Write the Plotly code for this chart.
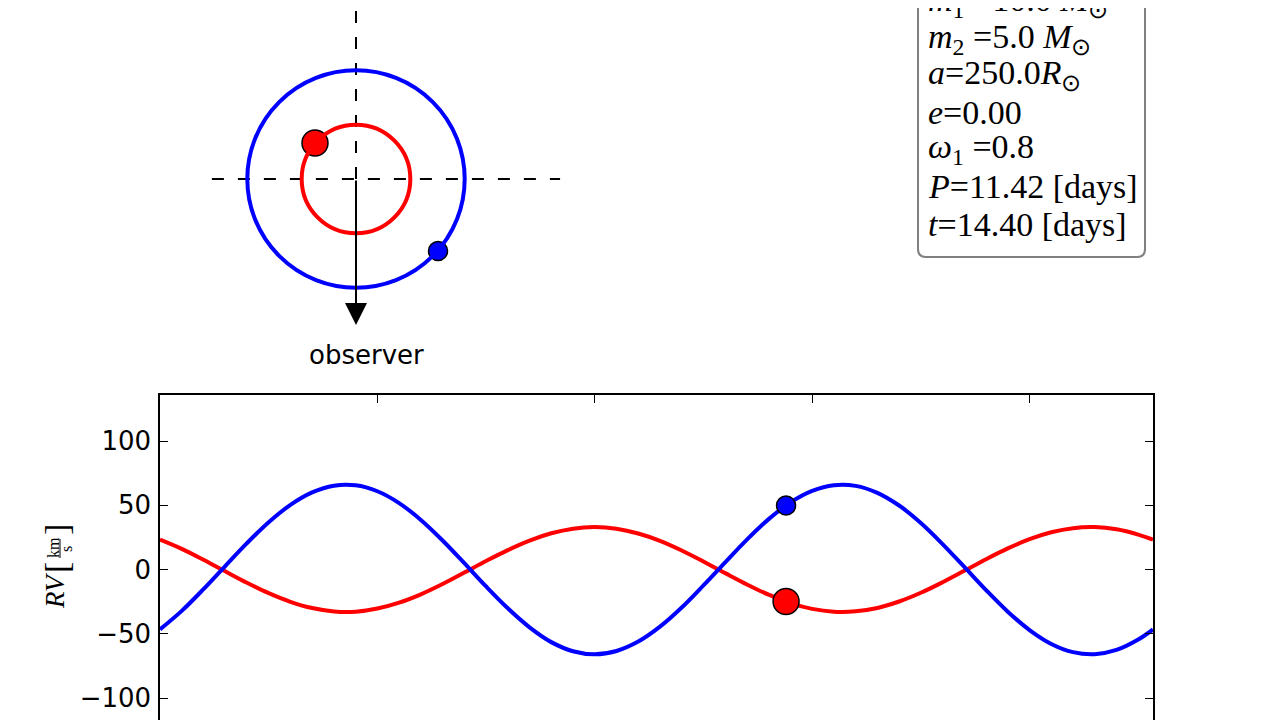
import plotly.graph_objects as go

# ---- data ----
t_days = [0.0, 0.5, 1.0, 1.5, 2.0, 2.5, 3.0, 3.5, 4.0, 4.5, 5.0, 5.5, 6.0, 6.5, 7.0, 7.5,
          8.0, 8.5, 9.0, 9.5, 10.0, 10.5, 11.0, 11.5, 12.0, 12.5, 13.0, 13.5, 14.0, 14.5,
          15.0, 15.5, 16.0, 16.5, 17.0, 17.5, 18.0, 18.5, 19.0, 19.5, 20.0, 20.5, 21.0,
          21.5, 22.0, 22.5, 22.84]
rv_blue = [-46.6, -32.2, -15.3, 2.7, 20.5, 36.8, 50.3, 60.0, 65.2, 65.5, 60.9, 51.7, 38.6,
           22.6, 4.9, -13.2, -30.2, -45.0, -56.5, -63.6, -66.0, -63.4, -56.1, -44.5, -29.6,
           -12.4, 5.6, 23.3, 39.2, 52.2, 61.2, 65.6, 65.1, 59.7, 49.8, 36.2, 19.8, 2.0,
           -16.0, -32.8, -47.1, -57.9, -64.3, -65.9, -62.6, -54.5, -46.6]
rv_red = [23.3, 16.1, 7.6, -1.4, -10.3, -18.4, -25.1, -30.0, -32.6, -32.8, -30.4, -25.8,
          -19.3, -11.3, -2.4, 6.6, 15.1, 22.5, 28.2, 31.8, 33.0, 31.7, 28.0, 22.3, 14.8, 6.2,
          -2.8, -11.6, -19.6, -26.1, -30.6, -32.8, -32.5, -29.9, -24.9, -18.1, -9.9, -1.0,
          8.0, 16.4, 23.6, 29.0, 32.2, 33.0, 31.3, 27.2, 23.3]

now_t = [14.40]
now_rv_blue = [49.8]
now_rv_red = [-24.9]

# orbit plane (units of R_sun), red = star 1, blue = star 2
orbit_radius_red = 83.3
orbit_radius_blue = 166.7
star_red_xy = [-62.9, 55.2]
star_blue_xy = [125.8, -110.4]
guide_h_x = [-221, 313]
guide_v_y = [0, 300]
observer_tip_y = -224

rv_ticks = [-100, -50, 0, 50, 100]
t_ticks = [0, 5, 10, 15, 20]
period = 11.42

param_lines = [
    "<i>m</i><sub>1</sub> =10.0 <i>M</i><sub>⊙</sub>",
    "<i>m</i><sub>2</sub> =5.0 <i>M</i><sub>⊙</sub>",
    "<i>a</i>=250.0<i>R</i><sub>⊙</sub>",
    "<i>e</i>=0.00",
    "<i>ω</i><sub>1</sub> =0.8",
    "<i>P</i>=11.42 [days]",
    "<i>t</i>=14.40 [days]",
]

# the page body has an 8px margin, so the figure is drawn 8px in from the corner
OFF = 8
FW, FH = 1280 - OFF, 720 - OFF
SCALE = 0.652          # screen px per R_sun in the orbit panel
CX, CY = 356, 179      # screen position of the orbit centre


def px(x):
    return (x - OFF) / FW


def py(y):
    return 1 - (y - OFF) / FH


fig = go.Figure()

# ---- RV panel ----
fig.add_trace(go.Scatter(x=t_days, y=rv_red, mode="lines", line=dict(color="#ff0000", width=4, shape="spline"),
                         xaxis="x", yaxis="y", hoverinfo="skip"))
fig.add_trace(go.Scatter(x=t_days, y=rv_blue, mode="lines", line=dict(color="#0000ff", width=4, shape="spline"),
                         xaxis="x", yaxis="y", hoverinfo="skip"))
fig.add_trace(go.Scatter(x=now_t, y=now_rv_blue, mode="markers",
                         marker=dict(color="#0000ff", size=19, line=dict(color="black", width=1.5)),
                         xaxis="x", yaxis="y", cliponaxis=False))
fig.add_trace(go.Scatter(x=now_t, y=now_rv_red, mode="markers",
                         marker=dict(color="#ff0000", size=26, line=dict(color="black", width=1.5)),
                         xaxis="x", yaxis="y", cliponaxis=False))

# ---- orbit panel ----
fig.add_trace(go.Scatter(x=guide_h_x, y=[0, 0], mode="lines", line=dict(color="black", width=2, dash="12px,14px"),
                         xaxis="x2", yaxis="y2", hoverinfo="skip"))
fig.add_trace(go.Scatter(x=[0, 0], y=guide_v_y, mode="lines", line=dict(color="black", width=2, dash="12px,14px"),
                         xaxis="x2", yaxis="y2", hoverinfo="skip"))
for r, col in [(orbit_radius_blue, "#0000ff"), (orbit_radius_red, "#ff0000")]:
    fig.add_shape(type="circle", xref="x2", yref="y2", x0=-r, y0=-r, x1=r, y1=r,
                  line=dict(color=col, width=4))
fig.add_trace(go.Scatter(x=[star_blue_xy[0]], y=[star_blue_xy[1]], mode="markers",
                         marker=dict(color="#0000ff", size=19, line=dict(color="black", width=1.5)),
                         xaxis="x2", yaxis="y2"))
fig.add_trace(go.Scatter(x=[star_red_xy[0]], y=[star_red_xy[1]], mode="markers",
                         marker=dict(color="#ff0000", size=26, line=dict(color="black", width=1.5)),
                         xaxis="x2", yaxis="y2"))
fig.add_annotation(xref="x2", yref="y2", axref="x2", ayref="y2", x=0, y=observer_tip_y, ax=0, ay=0,
                   text="", showarrow=True, arrowhead=2, arrowsize=2.2, arrowwidth=2, arrowcolor="black",
                   standoff=0, startstandoff=0)
fig.add_annotation(xref="paper", yref="paper", x=px(366), y=py(355), text="observer", showarrow=False,
                   font=dict(family="DejaVu Sans", size=26, color="black"), xanchor="center", yanchor="middle")

# ---- parameter box ----
L, R, T, B, rad = px(918), px(1145), py(-10), py(257), 8
box_path = (f"M {L},{T} L {L},{py(257 - rad)} Q {L},{B} {px(918 + rad)},{B} "
            f"L {px(1145 - rad)},{B} Q {R},{B} {R},{py(257 - rad)} L {R},{T}")
fig.add_shape(type="path", xref="paper", yref="paper", path=box_path,
              line=dict(color="#808080", width=2))
line_y = [2, 39, 75, 112, 149, 187, 224]
for txt, yy in zip(param_lines, line_y):
    fig.add_annotation(xref="paper", yref="paper", x=px(926), y=py(yy), text=txt, showarrow=False,
                       xanchor="left", yanchor="middle",
                       font=dict(family="Liberation Serif", size=34, color="black"))

# y label: RV [km / s], rotated, fraction built from pieces
serif = "Liberation Serif"
ylabel_parts = [
    ("<i>RV</i>", 55, 591, 27),
    ("[", 56, 568, 34),
    ("km", 53, 548, 16),
    ("s", 66, 549, 16),
    ("]", 56, 530, 34),
]
for txt, xx, yy, fs in ylabel_parts:
    fig.add_annotation(xref="paper", yref="paper", x=px(xx), y=py(yy), textangle=-90, showarrow=False,
                       text=txt, xanchor="center", yanchor="middle",
                       font=dict(family=serif, size=fs, color="black"))
fig.add_shape(type="line", xref="paper", yref="paper", x0=px(60), x1=px(60), y0=py(539), y1=py(558),
              line=dict(color="black", width=1))

fig.update_layout(
    width=FW, height=FH,
    margin=dict(l=0, r=0, t=0, b=0),
    paper_bgcolor="white", plot_bgcolor="rgba(0,0,0,0)",
    showlegend=False,
    xaxis=dict(domain=[px(160), px(1153)], range=[0, 2 * period], side="top",
               showline=True, linecolor="black", linewidth=1.5, mirror=False,
               ticks="inside", ticklen=8, tickwidth=1, tickcolor="black", tickvals=t_ticks,
               showticklabels=False, showgrid=False, zeroline=False, anchor="y"),
    yaxis=dict(domain=[0, py(395)], range=[-117.1, 135.8],
               showline=True, linecolor="black", linewidth=1.5, mirror="ticks",
               ticks="inside", ticklen=8, tickwidth=1, tickcolor="black", tickvals=rv_ticks,
               tickfont=dict(family="DejaVu Sans", size=26, color="black"), ticklabelstandoff=2,
               showgrid=False, zeroline=False, anchor="x"),
    xaxis2=dict(domain=[0, px(644)], range=[(OFF - CX) / SCALE, (644 - CX) / SCALE],
                visible=False, anchor="y2"),
    yaxis2=dict(domain=[py(400), 1], range=[(CY - 400) / SCALE, (CY - OFF) / SCALE],
                visible=False, anchor="x2"),
)

fig.write_html("out.html")
